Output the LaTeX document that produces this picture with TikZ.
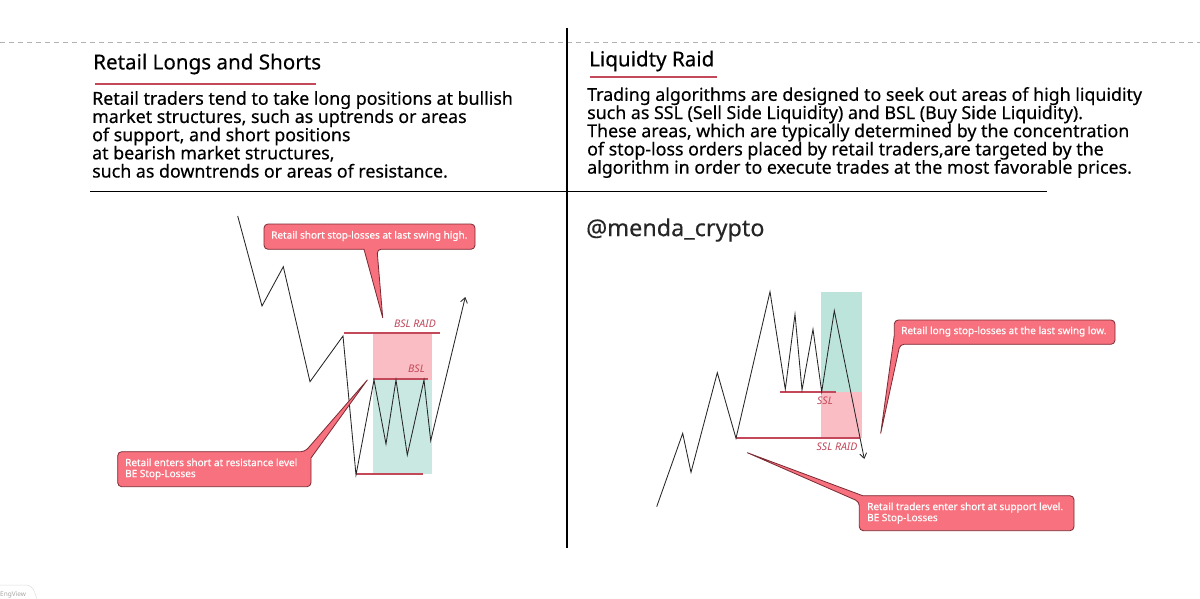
\documentclass[tikz,border=0pt]{standalone}
\usepackage{fontspec}
\usetikzlibrary{arrows.meta}
\setmainfont{Noto Sans}
\newfontfamily\heavyf[FakeBold=0.35]{Noto Sans}
\definecolor{callfill}{HTML}{F7727E}
\definecolor{callline}{HTML}{7A2A33}
\definecolor{raidred}{HTML}{C2485A}
\definecolor{zonered}{HTML}{FBBDC4}
\definecolor{zonegreenl}{HTML}{C8E8E1}
\definecolor{zonegreenr}{HTML}{BCE4DB}
\definecolor{ink}{HTML}{262626}
\tikzset{
 x=1pt,y=-1pt,
 callout/.style={fill=callfill,draw=callline,line width=0.8pt,line join=round},
 calltext/.style={inner sep=0pt,text=white,font=\heavyf\fontsize{10}{11}\selectfont,align=left,anchor=west},
 chart/.style={draw=ink,line width=0.85pt,line join=miter},
 level/.style={draw=raidred,line width=1.5pt},
 lvltext/.style={inner sep=0pt,text=raidred,font=\fontsize{10.5}{12}\selectfont\itshape},
 titletext/.style={inner sep=0pt,anchor=west,text=black,font=\heavyf\fontsize{20.6}{24}\selectfont},
 bodytext/.style={inner sep=0pt,anchor=north west,align=left,text=black,font=\heavyf\fontsize{17.8}{18.2}\selectfont},
 rule/.style={draw=black,line width=1.4pt},
 ul/.style={draw=raidred,line width=1.5pt}
}
\begin{document}
\begin{tikzpicture}
\useasboundingbox (0,0) rectangle (1200,599);
\fill[white] (0,0) rectangle (1200,599);
% frame
\coordinate (dl) at (0,42); \coordinate (dr) at (1200,42);
\draw[gray!60,line width=0.5pt,dash pattern=on 5pt off 4pt] (dl) -- (dr);
\coordinate (vt) at (567,28); \coordinate (vb) at (567,548);
\draw[rule] (vt) -- (vb);
\coordinate (hl) at (90,191.5); \coordinate (hr) at (1047,191.5);
\draw[rule] (hl) -- (hr);
% titles
\node[titletext] (t1) at (93,64) {Retail Longs and Shorts};
\coordinate (u1a) at (95,84); \coordinate (u1b) at (316,84);
\draw[ul] (u1a) -- (u1b);
\node[titletext] (t2) at (589,61) {Liquidty Raid};
\coordinate (u2a) at (590,77); \coordinate (u2b) at (717,77);
\draw[ul] (u2a) -- (u2b);
\node[bodytext] (b1) at (92,91) {Retail traders tend to take long positions at bullish\\market structures, such as uptrends or areas\\of support, and short positions\\at bearish market structures,\\such as downtrends or areas of resistance.};
\node[bodytext] (b2) at (587,87) {Trading algorithms are designed to seek out areas of high liquidity\\such as SSL (Sell Side Liquidity) and BSL (Buy Side Liquidity).\\These areas, which are typically determined by the concentration\\of stop-loss orders placed by retail traders,are targeted by the\\algorithm in order to execute trades at the most favorable prices.};
\node[inner sep=0pt,anchor=west,text=ink,font=\heavyf\fontsize{23.4}{26}\selectfont] (handle) at (586,230) {@menda\_crypto};
% left zones
\fill[zonered] (373,332.7) rectangle (431.7,380);
\fill[zonegreenl] (373,380) rectangle (431.7,474);
\draw[level] (344.3,333) -- (440,333);
\draw[level] (373,379) -- (428,379);
\draw[level] (356,474) -- (423,474);
\node[lvltext,anchor=east] (bslraid) at (436,324) {BSL RAID};
\node[lvltext,anchor=east] (bsl) at (425,369) {BSL};
\draw[chart,-{Straight Barb[length=5pt,width=7pt]}] (237.7,216) -- (262,306) -- (283.3,266.7) -- (310,381.7) -- (343,336) -- (356,475) -- (374,380) -- (386,444) -- (396,380) -- (407.3,455) -- (424,380) -- (430.7,440.7) -- (465.3,297);
% right zones
\fill[zonegreenr] (821,291.7) rectangle (861.7,392);
\fill[zonered] (821,392) rectangle (861.7,438.3);
\draw[level] (780,392) -- (835.7,392);
\draw[level] (736,438) -- (860,438);
\node[lvltext] (ssl) at (825,401) {SSL};
\node[lvltext] (sslraid) at (837,447) {SSL RAID};
\draw[chart,-{Straight Barb[length=5pt,width=7pt]}] (656.7,506.7) -- (682.7,433.3) -- (691,472.3) -- (717.3,372.7) -- (736,438.3) -- (770,291.7) -- (785.3,389.3) -- (795,314.3) -- (802,390) -- (813,329.3) -- (821.7,391.7) -- (834.3,310.7) -- (864.3,459);
% callouts
\draw[callout,rounded corners=4pt] (264,224) -- (475,224) -- (475,249.3) -- (377,249.3) [sharp corners] -- (382.7,317.7) -- (364,249.3) [rounded corners=4pt] -- (264,249.3) -- cycle;
\node[calltext] (c1) at (271,236) {Retail short stop-losses at last swing high.};
\draw[callout,rounded corners=4pt] (117.7,451.7) -- (305,451.7) [sharp corners] -- (367.3,380) -- (311,458) [rounded corners=4pt] -- (311,486.7) -- (117.7,486.7) -- cycle;
\node[calltext] (c2) at (125,469) {Retail enters short at resistance level\\BE Stop-Losses};
\draw[callout,rounded corners=4pt] (894.3,320) -- (1115,320) -- (1115,344.3) -- (900,344.3) [sharp corners] -- (880.7,433.3) -- (894.3,335) [rounded corners=4pt] -- cycle;
\node[calltext] (c3) at (901,331.5) {Retail long stop-losses at the last swing low.};
\draw[callout,rounded corners=4pt] (862.7,495.7) -- (1074,495.7) -- (1074,530.7) -- (859.3,530.7) -- (859.3,501.7) [sharp corners] -- (747.3,452.7) -- cycle;
\node[calltext] (c4) at (867,513) {Retail traders enter short at support level.\\BE Stop-Losses};
% bottom tab
\draw[gray!25,line width=0.5pt,rounded corners=6pt] (-2,585) -- (32,585) -- (37,599);
\node[inner sep=0pt,anchor=west,text=gray!70,font=\fontsize{6.5}{7}\selectfont] (tab) at (0,595) {EngView};
\end{tikzpicture}
\end{document}
